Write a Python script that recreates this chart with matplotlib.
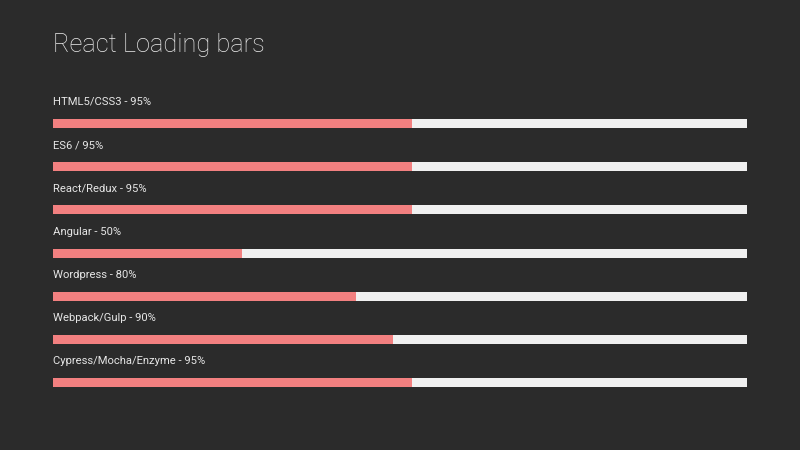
import matplotlib.pyplot as plt

skills = ["HTML5/CSS3 - 95%", "ES6 / 95%", "React/Redux - 95%", "Angular - 50%",
          "Wordpress - 80%", "Webpack/Gulp - 90%", "Cypress/Mocha/Enzyme - 95%"]
percent = [95, 95, 95, 50, 80, 90, 95]
# the bars are caught mid-animation, filled to ~54.5% of their target
progress = 0.545

bg = "#2b2b2b"
fig = plt.figure(figsize=(8, 4.5), dpi=100, facecolor=bg)
ax = fig.add_axes([53 / 800, 0, 694 / 800, 1])
ax.set_facecolor(bg)

pos = list(range(len(skills)))
step = 43.17
ax.barh(pos, [100] * len(pos), height=9 / step, color="#f0f0f0")
ax.barh(pos, [p * progress for p in percent], height=9 / step, color="#f28080")

for i, name in zip(pos, skills):
    ax.text(0, i - 21.5 / step, name, color="#e6e6e6", fontsize=8.1,
            family="Roboto", va="center", ha="left")

ax.set_xlim(0, 100)
ax.set_ylim((450 - 123.5) / step, -123.5 / step)
ax.axis("off")

fig.text(53 / 800, 1 - 45 / 450, "React Loading bars", color="#ececec",
         fontsize=18.3, family="Roboto", fontweight="light", va="center", ha="left")

fig.savefig("out.png", dpi=100, facecolor=bg)
